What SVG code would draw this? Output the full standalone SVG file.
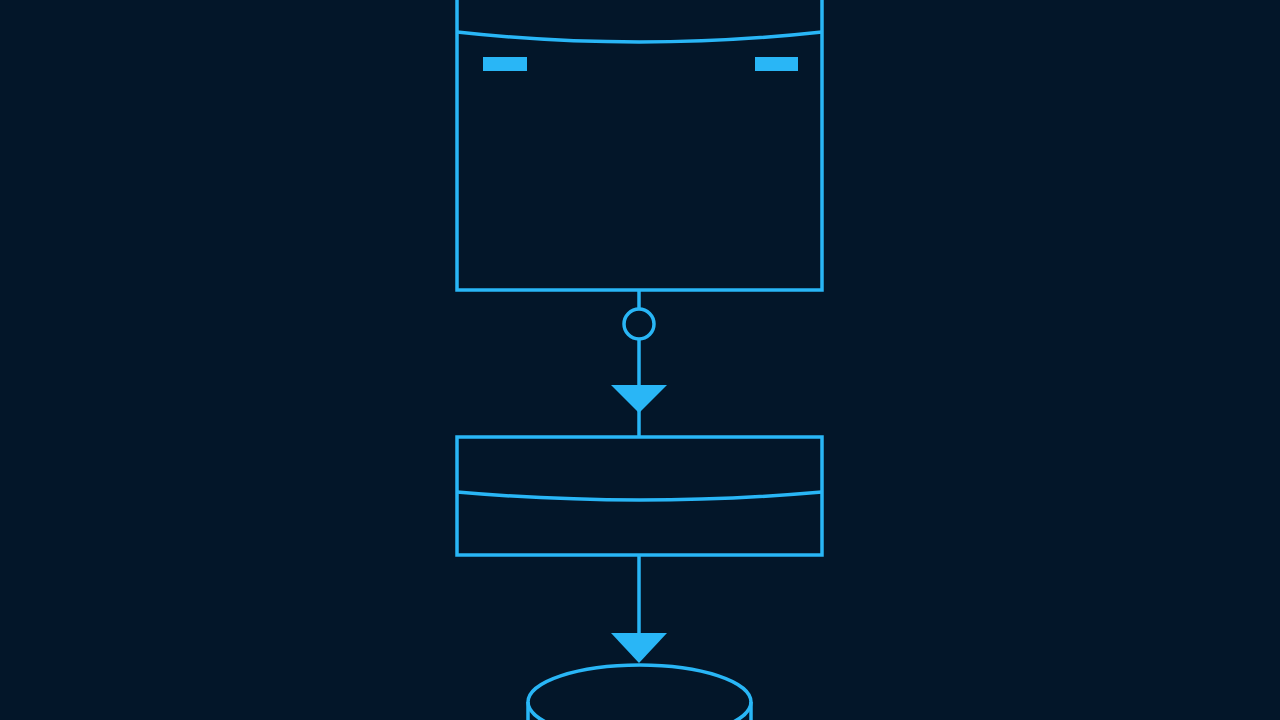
<svg xmlns="http://www.w3.org/2000/svg" width="1280" height="720" viewBox="0 0 1280 720">
<defs>
<style>
.s{fill:none;stroke:#29b6f6;stroke-width:3.5}
.f{fill:#29b6f6}
</style>
</defs>
<rect width="1280" height="720" fill="#031629"/>
<g id="node-top">
<rect class="s" x="457" y="-10" width="365" height="300"/>
<path class="s" d="M457 32 Q639 52 822 32"/>
<rect class="f" x="483" y="57" width="44" height="14"/>
<rect class="f" x="755" y="57" width="43" height="14"/>
</g>
<g id="node-middle">
<rect class="s" x="457" y="437" width="365" height="118"/>
<path class="s" d="M457 492 Q639 508 822 492"/>
</g>
<g id="node-store">
<path class="s" d="M528 702 L528 740 M751 702 L751 740"/>
<ellipse class="s" cx="639.5" cy="702" rx="111.5" ry="37"/>
</g>
<g id="connectors">
<line class="s" x1="639" y1="290" x2="639" y2="309"/>
<circle class="s" cx="639" cy="324" r="15"/>
<line class="s" x1="639" y1="339" x2="639" y2="437"/>
<polygon class="f" points="611,385 667,385 639,413"/>
<line class="s" x1="639" y1="555" x2="639" y2="640"/>
<polygon class="f" points="611,633 667,633 639,663"/>
</g>
</svg>
